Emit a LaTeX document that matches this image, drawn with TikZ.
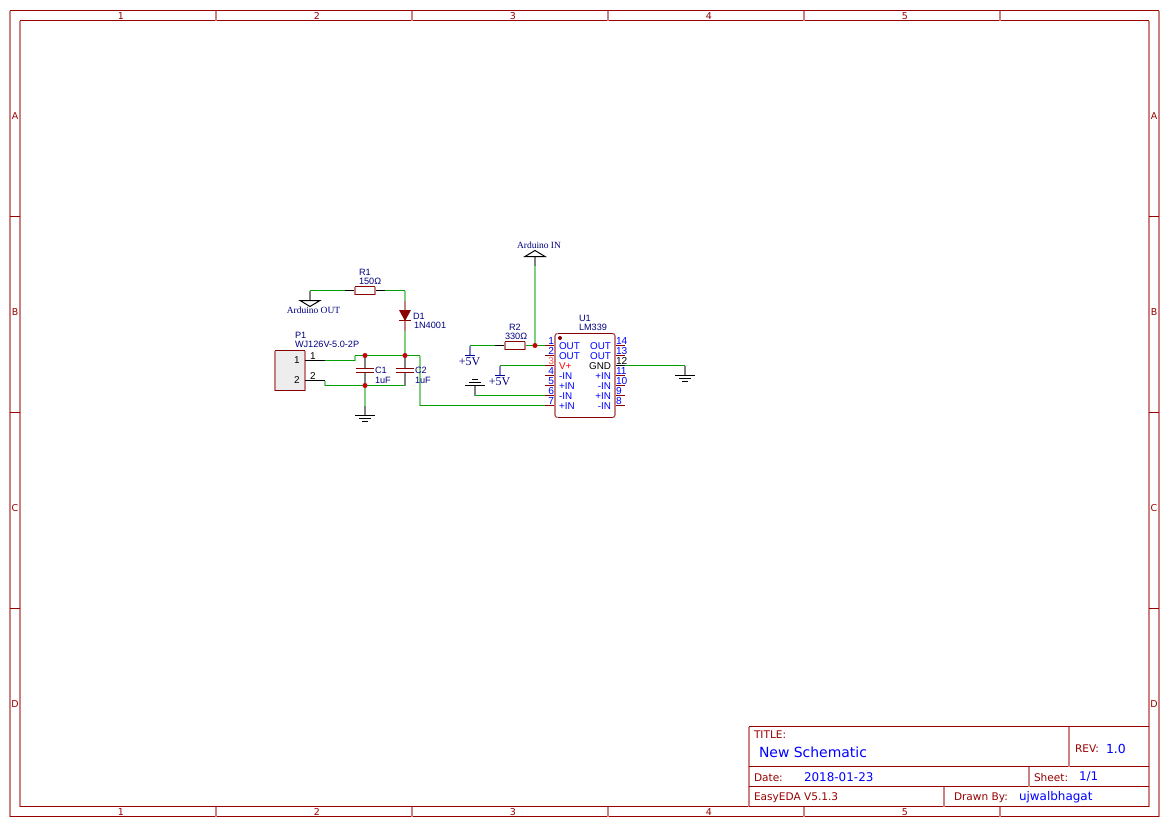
\documentclass[tikz,border=0pt]{standalone}
\usepackage{fontspec}
\setmainfont{DejaVu Sans}
\newfontfamily\serifpart{Liberation Serif}
\newfontfamily\sanspart{Liberation Sans}
\definecolor{fr}{HTML}{990000}
\definecolor{sym}{HTML}{880000}
\definecolor{wr}{HTML}{00A000}
\definecolor{pinblue}{HTML}{0000FF}
\definecolor{navy}{HTML}{000080}
\definecolor{flagblue}{HTML}{000099}
\definecolor{junc}{HTML}{CC0000}
\newcommand{\fsz}[1]{\fontsize{#1}{#1}\selectfont}
\newcommand{\hvbox}[6]{% x1 y1 x2 y2 hstyle vstyle
  \draw[#6] (#1,#2) -- (#1,#4);
  \draw[#6] (#3,#2) -- (#3,#4);
  \draw[#5] (#1,#2) -- (#3,#2);
  \draw[#5] (#1,#4) -- (#3,#4);
}
\tikzset{
  base/.style={inner sep=0pt,outer sep=0pt},
  frameline/.style={draw=fr,line width=1bp},
  vframe/.style={draw=fr!50,line width=2bp},
  frametxt/.style={base,text=fr,font=\fsz{9.5}},
  tbred/.style={base,text=fr,font=\fsz{10.6},anchor=west},
  tbblue/.style={base,text=pinblue,font=\fsz{11.5},anchor=west},
  wire/.style={draw=wr,line width=1bp},
  vwire/.style={draw=wr!50,line width=2bp},
  lead/.style={draw=black,line width=1bp},
  vlead/.style={draw=black!50,line width=2bp},
  symline/.style={draw=sym,line width=1bp},
  vsym/.style={draw=sym!50,line width=2bp},
  bluelead/.style={draw=flagblue,line width=1bp},
  vblue/.style={draw=flagblue!50,line width=2bp},
  refname/.style={base,text=navy,font=\sanspart\fsz{9.2},anchor=west},
  flagtxt/.style={base,text=navy,font=\serifpart\fsz{9.5}},
  powertxt/.style={base,text=navy,font=\serifpart\fsz{12}},
  pinnum/.style={base,text=pinblue,font=\sanspart\fsz{10.2}},
  pinname/.style={base,text=pinblue,font=\sanspart\fsz{9.9}},
  junction/.style={circle,fill=junc,inner sep=0pt,outer sep=0pt,minimum size=5bp},
}
\begin{document}
\begin{tikzpicture}[x=1bp,y=-1bp]
\useasboundingbox (0,0) rectangle (1169,827);
% sheet frame
\hvbox{10}{10.5}{1159}{816.5}{frameline}{vframe}
\hvbox{20}{20.5}{1149}{806.5}{frameline}{vframe}
\foreach \x in {216,412,608,804,1000}{
  \draw[vframe] (\x,10.5) -- (\x,20.5);
  \draw[vframe] (\x,806.5) -- (\x,816.5);
}
\foreach \y in {216.5,412.5,608.5}{
  \draw[frameline] (10,\y) -- (20,\y);
  \draw[frameline] (1149,\y) -- (1159,\y);
}
\foreach \x/\t in {121/1,317/2,513/3,709/4,905/5}{
  \node[frametxt] (top\t) at (\x,15.7) {\t};
  \node[frametxt] (bot\t) at (\x,811.7) {\t};
}
\foreach \y/\t in {116/A,312/B,508/C,704/D}{
  \node[frametxt] (left\t) at (15,\y) {\t};
  \node[frametxt] (right\t) at (1154,\y) {\t};
}
% title block
\hvbox{749}{726.5}{1149}{806.5}{frameline}{vframe}
\draw[frameline] (749,766.5) -- (1149,766.5);
\draw[frameline] (749,786.5) -- (1149,786.5);
\draw[vframe] (1069,726.5) -- (1069,766.5);
\draw[vframe] (1029,766.5) -- (1029,786.5);
\draw[vframe] (944,786.5) -- (944,806.5);
\node[tbred] (ttl) at (754,734.5) {TITLE:};
\node[tbblue,font=\fsz{14}] (ttlv) at (759,752) {New Schematic};
\node[tbred] (rev) at (1075,748.5) {REV:};
\node[tbblue,font=\fsz{12.5}] (revv) at (1106,748.5) {1.0};
\node[tbred] (dat) at (754,777.5) {Date:};
\node[tbblue,font=\fsz{12}] (datv) at (804,777) {2018-01-23};
\node[tbred] (sht) at (1034,777.5) {Sheet:};
\node[tbblue,font=\fsz{12}] (shtv) at (1079,777) {1/1};
\node[tbred] (eda) at (754,797.5) {EasyEDA V5.1.3};
\node[tbred] (drw) at (954,797.5) {Drawn By:};
\node[tbblue,font=\fsz{12}] (drwv) at (1019,797) {ujwalbhagat};
% named points
\coordinate (oF) at (310,300.5);
\coordinate (oC) at (310,290.5);
\coordinate (r1a) at (345,290.5);
\coordinate (r1b) at (385,290.5);
\coordinate (dT) at (405,290.5);
\coordinate (dA) at (405,300.5);
\coordinate (dK) at (405,330.5);
\coordinate (n1) at (405,355.5);
\coordinate (n2) at (365,355.5);
\coordinate (n3) at (365,385.5);
\coordinate (c2b) at (405,385.5);
\coordinate (p1) at (325,360.5);
\coordinate (p1k) at (355,360.5);
\coordinate (p1t) at (355,355.5);
\coordinate (p2) at (325,380.5);
\coordinate (p2k) at (325,385.5);
\coordinate (gA) at (365,415.5);
\coordinate (gB) at (365,405.5);
\coordinate (e7) at (420,405.5);
\coordinate (e7t) at (420,355.5);
\coordinate (u1) at (545,345.5);
\coordinate (u3) at (545,365.5);
\coordinate (u6) at (545,395.5);
\coordinate (u7) at (545,405.5);
\coordinate (u12) at (625,365.5);
\coordinate (g12) at (685,365.5);
\coordinate (r2a) at (495,345.5);
\coordinate (r2b) at (525,345.5);
\coordinate (n4) at (535,345.5);
\coordinate (iF) at (535,256.5);
\coordinate (iW) at (535,265.5);
\coordinate (v1t) at (470,345.5);
\coordinate (v2t) at (500,365.5);
\coordinate (g6t) at (475,395.5);
% wires
\draw[vwire] (dT) -- (dA);
\draw[vwire] (dK) -- (n1);
\draw[vwire] (p1k) -- (p1t);
\draw[vwire] (e7t) -- (e7);
\draw[vwire] (p2) -- (p2k);
\draw[vwire] (n3) -- (gB);
\draw[vwire] (iW) -- (n4);
\draw[wire] (oC) -- (r1a);
\draw[wire] (r1b) -- (dT);
\draw[wire] (p1) -- (p1k);
\draw[wire] (p1t) -- (n2) -- (n1) -- (e7t);
\draw[wire] (e7) -- (u7);
\draw[wire] (p2k) -- (n3) -- (c2b);
\draw[wire] (v1t) -- (r2a);
\draw[wire] (r2b) -- (n4) -- (u1);
\draw[wire] (v2t) -- (u3);
\draw[wire] (g6t) -- (u6);
\draw[wire] (u12) -- (g12);
% Arduino OUT flag
\draw[vlead] (oC) -- (oF);
\draw[line width=1bp,draw=black] (300,300.5) -- (320,300.5) -- (310,306.5) -- cycle;
\node[flagtxt] (aout) at (313.5,310) {Arduino OUT};
% Arduino IN flag
\draw[vlead] (iW) -- (iF);
\draw[line width=1bp,draw=black] (525,256.5) -- (545,256.5) -- (535,250.5) -- cycle;
\node[flagtxt] (ain) at (539,245) {Arduino IN};
% R1
\draw[lead] (r1a) -- (355,290.5);
\draw[lead] (375,290.5) -- (r1b);
\hvbox{355}{286.5}{375}{294.5}{symline}{vsym}
\node[refname] (r1n) at (359,272) {R1};
\node[refname] (r1v) at (359,281) {150Ω};
% D1
\draw[vsym] (dA) -- (dK);
\fill[sym] (399,310) -- (411,310) -- (405,321) -- cycle;
\draw[symline] (399,320.5) -- (411,320.5);
\node[refname] (d1n) at (413,316) {D1};
\node[refname] (d1v) at (414,325) {1N4001};
% P1
\fill[black!7] (275,350.5) rectangle (305,390.5);
\hvbox{275}{350.5}{305}{390.5}{symline}{vsym}
\draw[lead] (305,360.5) -- (p1);
\draw[lead] (305,380.5) -- (p2);
\node[base,font=\sanspart\fsz{10}] (p1a) at (297,360.5) {1};
\node[base,font=\sanspart\fsz{10}] (p1b) at (297,380.5) {2};
\node[base,font=\sanspart\fsz{10}] (p1c) at (313,356.5) {1};
\node[base,font=\sanspart\fsz{10}] (p1d) at (313,376) {2};
\node[refname] (p1n) at (295,335.5) {P1};
\node[refname] (p1v) at (295,344.5) {WJ126V-5.0-2P};
% C1
\draw[vlead] (n2) -- (365,368.5);
\draw[vlead] (365,372.5) -- (n3);
\draw[symline] (356,368.5) -- (374,368.5);
\draw[symline] (356,372.5) -- (374,372.5);
\node[refname] (c1n) at (375,370.5) {C1};
\node[refname] (c1v) at (375,380) {1uF};
% C2
\draw[vlead] (n1) -- (405,368.5);
\draw[vlead] (405,372.5) -- (c2b);
\draw[symline] (396,368.5) -- (414,368.5);
\draw[symline] (396,372.5) -- (414,372.5);
\node[refname] (c2n) at (415,370.5) {C2};
\node[refname] (c2v) at (415,380) {1uF};
% ground under C1
\draw[vlead] (gB) -- (gA);
\draw[lead] (355,415.5) -- (375,415.5);
\draw[lead] (359,418.5) -- (371,418.5);
\draw[lead] (362,421.5) -- (368,421.5);
% R2
\draw[lead] (r2a) -- (505,345.5);
\draw[lead] (525,345.5) -- (r2b);
\hvbox{505}{341.5}{525}{349.5}{symline}{vsym}
\node[refname] (r2n) at (509,327) {R2};
\node[refname] (r2v) at (505,336.5) {330Ω};
% +5V flags
\draw[vblue] (v1t) -- (470,355.5);
\draw[bluelead] (465,355.5) -- (475,355.5);
\node[powertxt] (v1) at (469.5,362) {+5V};
\draw[vblue] (v2t) -- (500,375.5);
\draw[bluelead] (495,375.5) -- (505,375.5);
\node[powertxt] (v2) at (499.5,382) {+5V};
% inverted ground at pin 6
\draw[vlead] (475,385.5) -- (g6t);
\draw[lead] (465,385.5) -- (485,385.5);
\draw[lead] (469,382.5) -- (481,382.5);
\draw[lead] (472,379.5) -- (478,379.5);
% U1
\draw[vsym] (555,336) -- (555,415);
\draw[vsym] (615,336) -- (615,415);
\draw[symline] (557.5,333.5) -- (612.5,333.5);
\draw[symline] (557.5,417.5) -- (612.5,417.5);
\draw[draw=sym!70,line width=1.2bp] (555,336) arc (180:90:2.5bp);
\draw[draw=sym!70,line width=1.2bp] (612.5,333.5) arc (90:0:2.5bp);
\draw[draw=sym!70,line width=1.2bp] (555,415) arc (180:270:2.5bp);
\draw[draw=sym!70,line width=1.2bp] (615,415) arc (0:-90:2.5bp);
\fill[sym] (560,338) circle (2bp);
\foreach \y in {345.5,355.5,365.5,375.5,385.5,395.5,405.5}{
  \draw[symline] (545,\y) -- (554,\y);
}
\foreach \y/\n in {341/1,351/2,371/4,381/5,391/6,401/7}{
  \node[pinnum,anchor=east] (ln\n) at (554,\y) {\n};
}
\node[pinnum,anchor=east,text=red!65] (ln3) at (554,361) {3};
\foreach \y in {345.5,355.5,375.5,385.5,395.5,405.5}{
  \draw[symline] (616,\y) -- (625,\y);
}
\draw[lead] (616,365.5) -- (u12);
\foreach \y/\n in {341/14,351/13,381/10,371/11,391/9,401/8}{
  \node[pinnum,anchor=west] (rn\n) at (616,\y) {\n};
}
\node[pinnum,anchor=west,text=black] (rn12) at (616,361) {12};
\foreach \y/\t/\k in {346/OUT/a,356/OUT/b,376/-IN/c,386/+IN/d,396/-IN/e,406/+IN/f}{
  \node[pinname,anchor=west] (ll\k) at (559,\y) {\t};
}
\node[pinname,anchor=west,text=red] (llv) at (559,366) {V+};
\foreach \y/\t/\k in {346/OUT/a,356/OUT/b,376/+IN/c,386/-IN/d,396/+IN/e,406/-IN/f}{
  \node[pinname,anchor=east] (rl\k) at (611,\y) {\t};
}
\node[pinname,anchor=east,text=black] (rlg) at (611,366) {GND};
\node[refname] (u1n) at (579,318.5) {U1};
\node[refname] (u1v) at (579,327.5) {LM339};
% ground at pin 12
\draw[vlead] (g12) -- (685,375.5);
\draw[lead] (675,375.5) -- (695,375.5);
\draw[lead] (679,378.5) -- (691,378.5);
\draw[lead] (682,381.5) -- (688,381.5);
% junctions
\node[junction] (j1) at (n1) {};
\node[junction] (j2) at (n2) {};
\node[junction] (j3) at (n3) {};
\node[junction] (j4) at (n4) {};
\end{tikzpicture}
\end{document}
